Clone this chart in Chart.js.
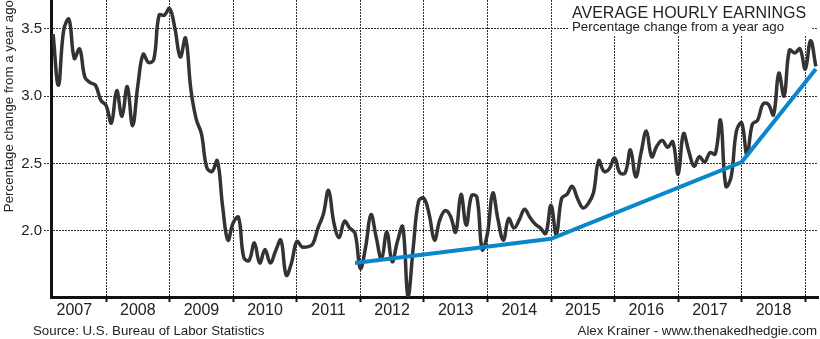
<!DOCTYPE html>
<html>
<head>
<meta charset="utf-8">
<script src="https://cdn.jsdelivr.net/npm/chart.js@4.4.1/dist/chart.umd.min.js"></script>
<style>
    html, body { margin: 0; padding: 0; background: #fff; }
</style>
</head>
<body>
<canvas id="earningsChart" width="820" height="339"></canvas>
<script>
// months are counted from Jan 2007 (= 0), first value is Mar 2007
let years = ['2007', '2008', '2009', '2010', '2011', '2012', '2013', '2014', '2015', '2016', '2017', '2018'];
let firstMonth = 2;
let earnings = [
    3.46, 3.08, 3.49, 3.57, 3.28, 3.35, 3.14, 3.10, 3.08, 2.97,             // 2007
    2.93, 2.80, 3.04, 2.85, 3.07, 2.78, 3.08, 3.31, 3.25, 3.27, 3.60, 3.60, // 2008
    3.65, 3.50, 3.29, 3.43, 3.05, 2.83, 2.72, 2.47, 2.44, 2.52, 2.18, 1.93, // 2009
    2.06, 2.10, 1.80, 1.78, 1.91, 1.76, 1.86, 1.76, 1.85, 1.93, 1.67, 1.76, // 2010
    1.92, 1.88, 1.88, 1.90, 2.02, 2.12, 2.30, 2.06, 1.95, 2.07, 2.02, 1.98, // 2011
    1.72, 1.88, 2.12, 1.95, 1.79, 1.99, 1.77, 1.92, 2.03, 1.51, 1.88, 2.22, // 2012
    2.24, 2.12, 1.93, 2.08, 2.15, 2.11, 1.99, 2.27, 2.04, 2.26, 2.25, 1.86, // 2013
    1.98, 2.28, 2.08, 1.93, 2.09, 2.02, 2.08, 2.16, 2.10, 2.05, 2.02, 1.98, // 2014
    2.19, 1.97, 2.24, 2.27, 2.33, 2.24, 2.17, 2.20, 2.28, 2.52, 2.44, 2.46, // 2015
    2.54, 2.43, 2.43, 2.60, 2.40, 2.58, 2.74, 2.55, 2.63, 2.67, 2.62, 2.66, // 2016
    2.42, 2.72, 2.59, 2.48, 2.55, 2.51, 2.58, 2.57, 2.82, 2.33, 2.40, 2.74, // 2017
    2.80, 2.56, 2.79, 2.82, 2.94, 2.94, 2.86, 3.17, 3.00, 3.34, 3.32, 3.35, // 2018
    3.20, 3.41, 3.22                                                        // 2019
];
let trendMonths = [59, 96, 132, 146];
let trendValues = [1.76, 1.94, 2.51, 3.20];
let yTicks = [2.0, 2.5, 3.0, 3.5];

let titleText = 'AVERAGE HOURLY EARNINGS';
let subtitleText = 'Percentage change from a year ago';
let sourceText = 'Source: U.S. Bureau of Labor Statistics';
let creditText = 'Alex Krainer - www.thenakedhedgie.com';

const FONT = '"Liberation Sans", Arial, sans-serif';
Chart.defaults.font.family = FONT;
Chart.defaults.color = '#222';

// white box behind the title, then the texts on top
const textPlugin = {
    id: 'texts',
    beforeDatasetsDraw(chart) {
        let ctx = chart.ctx;
        ctx.save();
        ctx.fillStyle = '#fff';
        ctx.fillRect(569, 0, 242, 35);
        ctx.restore();
    },
    afterDraw(chart) {
        let ctx = chart.ctx;
        ctx.save();
        ctx.fillStyle = '#222';
        ctx.textBaseline = 'alphabetic';
        ctx.textAlign = 'left';
        ctx.font = '16px ' + FONT;
        ctx.fillText(titleText, 572, 18.3);
        ctx.font = '13.3px ' + FONT;
        ctx.fillText(subtitleText, 572, 31.2);
        ctx.fillText(sourceText, 33, 334.7);
        ctx.textAlign = 'right';
        ctx.fillText(creditText, 817, 334.7);
        ctx.restore();
    }
};

let isYear = v => v % 12 === 0;

new Chart(document.getElementById('earningsChart').getContext('2d'), {
    type: 'line',
    data: {
        datasets: [{
            label: 'Average hourly earnings',
            data: earnings.map((v, i) => ({ x: firstMonth + i, y: v })),
            borderColor: '#333',
            borderWidth: 3.5,
            tension: 0.4,
            pointRadius: 0,
            order: 2
        }, {
            label: 'Trend',
            data: trendMonths.map((m, i) => ({ x: m, y: trendValues[i] })),
            borderColor: '#0a86cd',
            borderWidth: 4,
            tension: 0,
            pointRadius: 0,
            order: 1
        }]
    },
    options: {
        responsive: false,
        animation: false,
        layout: { padding: { left: 0, right: 2, top: 0, bottom: 0 } },
        plugins: { legend: { display: false }, tooltip: { enabled: false } },
        scales: {
            x: {
                type: 'linear',
                min: 1.6,
                max: 146.4,
                afterBuildTicks: s => {
                    s.ticks = [];
                    for (let m = 6; m <= 144; m += 6) s.ticks.push({ value: m });
                },
                afterFit: s => { s.height = 42; s.paddingLeft = 0; s.paddingRight = 0; },
                ticks: {
                    autoSkip: false,
                    maxRotation: 0,
                    padding: -1,
                    font: { size: 16 },
                    callback: v => (v % 12 === 6 ? years[(v - 6) / 12] : '')
                },
                grid: {
                    color: c => (c.tick && isYear(c.tick.value) ? '#333' : 'rgba(0,0,0,0)'),
                    tickColor: c => (c.tick && isYear(c.tick.value) ? '#111' : 'rgba(0,0,0,0)'),
                    tickLength: 5,
                    tickWidth: 2,
                    tickBorderDash: []
                },
                border: { color: '#111', width: 3, dash: [2, 1] }
            },
            y: {
                min: 1.508,
                max: 3.713,
                afterBuildTicks: s => { s.ticks = yTicks.map(v => ({ value: v })); },
                afterFit: s => { s.width = 51; s.paddingTop = 0; s.paddingBottom = 0; },
                ticks: {
                    padding: 2,
                    font: { size: 15 },
                    callback: v => v.toFixed(1)
                },
                grid: {
                    color: '#333',
                    tickColor: '#333',
                    tickLength: 7,
                    tickBorderDash: [2, 1]
                },
                border: { color: '#111', width: 3, dash: [2, 1] },
                title: {
                    display: true,
                    text: subtitleText,
                    align: 'end',
                    padding: { top: 1, bottom: 0 },
                    font: { size: 13.3 }
                }
            }
        }
    },
    plugins: [textPlugin]
});
</script>
</body>
</html>
